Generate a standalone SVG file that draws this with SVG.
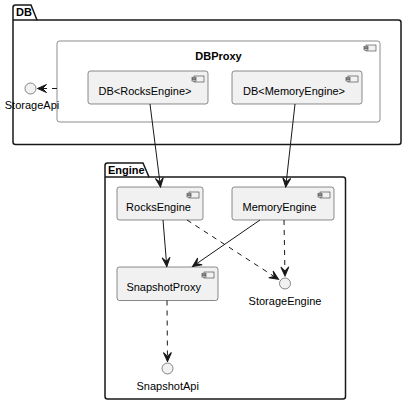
<svg xmlns="http://www.w3.org/2000/svg" width="408" height="405" viewBox="0 0 408 405">
<style>
  text { font-family: "Liberation Sans", Arial, sans-serif; font-size: 11px; fill: #000; }
  .bold { font-weight: bold; }
  .pkg { fill: #FFFFFF; stroke: #181818; stroke-width: 1.5; }
  .comp { fill: #F1F1F1; stroke: #181818; stroke-width: 0.5; }
  .container { fill: #FFFFFF; stroke: #181818; stroke-width: 0.5; }
  .icon { fill: #F1F1F1; stroke: #181818; stroke-width: 0.5; }
  .iface { fill: #F1F1F1; stroke: #181818; stroke-width: 0.5; }
  .link { fill: none; stroke: #181818; stroke-width: 1; }
  .dash { stroke-dasharray: 5,5; }
</style>
<defs>
  <marker id="arrow" markerUnits="userSpaceOnUse" viewBox="-10 -5 11 10" markerWidth="11" markerHeight="10" refX="0" refY="0" orient="auto">
    <path d="M0,0 L-9,-4 L-5,0 L-9,4 Z" fill="#181818" stroke="#181818" stroke-width="1" stroke-dasharray="none"/>
  </marker>
  <g id="cicon">
    <rect x="-14" y="0" width="10" height="6" class="icon"/>
    <rect x="-16" y="1.2" width="4" height="1.6" class="icon"/>
    <rect x="-16" y="3.4" width="4" height="1.6" class="icon"/>
  </g>
</defs>

<g id="pkg-DB">
  <path class="pkg" d="M13,20 L13,7.5 Q13,5 15.5,5 L31,5 L37,20 L398.5,20 Q401,20 401,22.5 L401,142 Q401,144.5 398.5,144.5 L15.5,144.5 Q13,144.5 13,142 Z"/>
  <line x1="13" y1="20" x2="37" y2="20" stroke="#181818" stroke-width="1.5"/>
  <text class="bold" x="16" y="16">DB</text>
</g>

<g id="pkg-Engine">
  <path class="pkg" d="M105,177 L105,165.5 Q105,163 107.5,163 L143,163 L149,177 L343,177 Q345.5,177 345.5,179.5 L345.5,396.5 Q345.5,399 343,399 L107.5,399 Q105,399 105,396.5 Z"/>
  <line x1="105" y1="177" x2="149" y2="177" stroke="#181818" stroke-width="1.5"/>
  <text class="bold" x="108" y="174">Engine</text>
</g>

<g id="DBProxy">
  <rect class="container" x="57" y="41" width="323" height="81" rx="2.5"/>
  <use href="#cicon" x="380" y="45"/>
  <text class="bold" x="218.5" y="60" text-anchor="middle">DBProxy</text>
</g>

<g id="DB-RocksEngine">
  <rect class="comp" x="88" y="71" width="120" height="33" rx="2.5"/>
  <use href="#cicon" x="208" y="76"/>
  <text x="145" y="95" text-anchor="middle">DB&lt;RocksEngine&gt;</text>
</g>

<g id="DB-MemoryEngine">
  <rect class="comp" x="232" y="71" width="130" height="33" rx="2.5"/>
  <use href="#cicon" x="362" y="76"/>
  <text x="294" y="95" text-anchor="middle">DB&lt;MemoryEngine&gt;</text>
</g>

<g id="StorageApi">
  <circle class="iface" cx="30.5" cy="88.5" r="5.5"/>
  <text x="32" y="109" text-anchor="middle">StorageApi</text>
</g>

<g id="RocksEngine">
  <rect class="comp" x="117" y="187" width="86" height="33" rx="2.5"/>
  <use href="#cicon" x="203" y="192"/>
  <text x="158.5" y="211" text-anchor="middle">RocksEngine</text>
</g>

<g id="MemoryEngine">
  <rect class="comp" x="232" y="187" width="102" height="33" rx="2.5"/>
  <use href="#cicon" x="334" y="192"/>
  <text x="279.5" y="211" text-anchor="middle">MemoryEngine</text>
</g>

<g id="SnapshotProxy">
  <rect class="comp" x="117" y="267" width="101" height="33.5" rx="2.5"/>
  <use href="#cicon" x="218" y="272"/>
  <text x="163.7" y="291" text-anchor="middle">SnapshotProxy</text>
</g>

<g id="StorageEngine">
  <circle class="iface" cx="285" cy="283.5" r="5.5"/>
  <text x="285" y="305" text-anchor="middle">StorageEngine</text>
</g>

<g id="SnapshotApi">
  <circle class="iface" cx="167.5" cy="368.5" r="5.5"/>
  <text x="167.7" y="390" text-anchor="middle">SnapshotApi</text>
</g>

<g id="connectors">
  <line class="link dash" x1="57" y1="88.5" x2="37.5" y2="88.5" marker-end="url(#arrow)"/>
  <line class="link" x1="150" y1="104" x2="160.5" y2="187" marker-end="url(#arrow)"/>
  <line class="link" x1="295" y1="104" x2="285.7" y2="187" marker-end="url(#arrow)"/>
  <line class="link" x1="163" y1="220" x2="166.8" y2="266.5" marker-end="url(#arrow)"/>
  <line class="link" x1="260" y1="220" x2="192.5" y2="266.5" marker-end="url(#arrow)"/>
  <line class="link dash" x1="187" y1="220" x2="278.5" y2="279.3" marker-end="url(#arrow)"/>
  <line class="link dash" x1="284" y1="220" x2="285" y2="276" marker-end="url(#arrow)"/>
  <line class="link dash" x1="167" y1="300.5" x2="167.5" y2="361.5" marker-end="url(#arrow)"/>
</g>
</svg>
